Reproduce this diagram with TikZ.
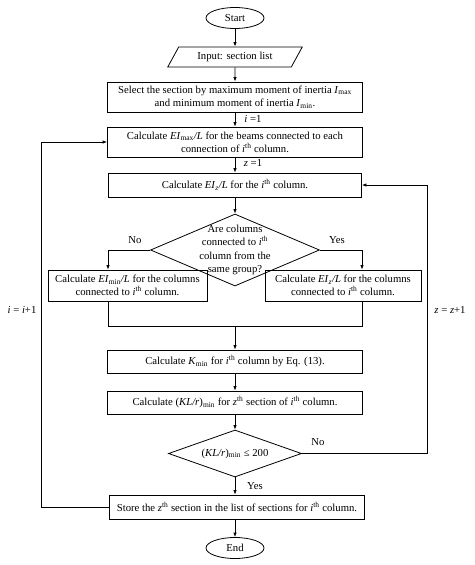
\documentclass[tikz,border=0pt]{standalone}
\usepackage{fontspec}
\setmainfont{Liberation Serif}
\usetikzlibrary{shapes.geometric,arrows.meta}
\begin{document}
\begin{tikzpicture}[x=1pt,y=-1pt,
  font=\fontsize{10.7}{13.2}\selectfont,
  line width=0.8pt,
  box/.style={draw, rectangle, inner sep=1pt, align=center, minimum width=255pt},
  term/.style={draw, ellipse, inner sep=0pt, minimum width=58pt, minimum height=21pt},
  dec/.style={draw, diamond, inner sep=0pt},
  plain/.style={inner sep=0pt, align=center},
  arr/.style={-{Latex[length=4.5pt,width=3.5pt]}}]
\useasboundingbox (0,0) rectangle (474,565);
% nodes
\node[term] (start) at (235,18) {Start};
\node[draw, trapezium, trapezium left angle=53, trapezium right angle=127,
      trapezium stretches=true, minimum width=135pt, minimum height=20pt, inner sep=0pt] (input) at (235,57) {Input: section list};
\node[box, minimum height=30pt] (select) at (235,97)
  {Select the section by maximum moment of inertia \textit{I}\textsubscript{max}\\ and minimum moment of inertia \textit{I}\textsubscript{min}.};
\node[box, minimum height=30pt] (beam) at (235,142)
  {Calculate \textit{EI}\textsubscript{max}\textit{/L} for the beams connected to each\\ connection of \textit{i}\textsuperscript{th} column.};
\node[box, minimum width=253pt, minimum height=24pt] (eiz) at (235,185)
  {Calculate \textit{EI}\textsubscript{\textit{z}}\textit{/L} for the \textit{i}\textsuperscript{th} column.};
\node[dec, minimum width=169pt, minimum height=72pt] (d1) at (235,250) {};
\node[plain] (d1t) at (235,250)
  {Are columns\\ connected to \textit{i}\textsuperscript{th}\\ column from the\\ same group?};
\node[box, minimum width=159pt, minimum height=31pt] (lb) at (127.5,285.5)
  {Calculate \textit{EI}\textsubscript{min}\textit{/L} for the columns\\ connected to \textit{i}\textsuperscript{th} column.};
\node[box, minimum width=156pt, minimum height=31pt] (rb) at (343,285.5)
  {Calculate \textit{EI}\textsubscript{\textit{z}}\textit{/L} for the columns\\ connected to \textit{i}\textsuperscript{th} column.};
\node[box, minimum height=23pt] (kmin) at (235,361.5)
  {Calculate \textit{K}\textsubscript{min} for \textit{i}\textsuperscript{th} column by Eq. (13).};
\node[box, minimum height=23pt] (klr) at (235,402.5)
  {Calculate (\textit{KL/r})\textsubscript{min} for \textit{z}\textsuperscript{th} section of \textit{i}\textsuperscript{th} column.};
\node[dec, minimum width=133pt, minimum height=47pt] (d2) at (235,453.5) {};
\node[plain] (d2t) at (235,453.5) {(\textit{KL/r})\textsubscript{min} ≤ 200};
\node[box, minimum height=24pt] (store) at (237,507)
  {Store the \textit{z}\textsuperscript{th} section in the list of sections for \textit{i}\textsuperscript{th} column.};
\node[term] (end) at (235,548) {End};
% labels
\node[plain] (li1) at (253,119) {\textit{i} =1};
\node[plain] (lz1) at (253,163) {\textit{z} =1};
\node[plain] (lno1) at (135,240) {No};
\node[plain] (lyes1) at (337,240) {Yes};
\node[plain] (lii) at (22,310) {\textit{i} = \textit{i}+1};
\node[plain] (lzz) at (450,310) {\textit{z} = \textit{z}+1};
\node[plain] (lno2) at (318,442) {No};
\node[plain] (lyes2) at (255,486) {Yes};
% helper coordinates
\coordinate (lx) at (108,0);
\coordinate (rx) at (362,0);
\coordinate (m) at (235,326);
\coordinate (ll) at (41,0);
\coordinate (rl) at (427,0);
% connectors
\draw[arr] (start) -- (input);
\draw[arr] (input) -- (select);
\draw[arr] (select) -- (beam);
\draw[arr] (beam) -- (eiz);
\draw[arr] (eiz) -- (d1);
\draw[arr] (d1.west) -| (lx |- lb.north);
\draw[arr] (d1.east) -| (rx |- rb.north);
\draw (lx |- lb.south) -- (lx |- m) -- (rx |- m) -- (rx |- rb.south);
\draw[arr] (m) -- (kmin);
\draw[arr] (kmin) -- (klr);
\draw[arr] (klr) -- (d2);
\draw[arr] (d2.south) -- (d2.south |- store.north);
\draw[arr] (store.south -| end) -- (end);
\draw[arr] (d2.east) -- (rl |- d2.east) -- (rl |- eiz.east) -- (eiz.east);
\draw[arr] (store.west) -- (ll |- store.west) -- (ll |- beam.west) -- (beam.west);
\end{tikzpicture}
\end{document}
